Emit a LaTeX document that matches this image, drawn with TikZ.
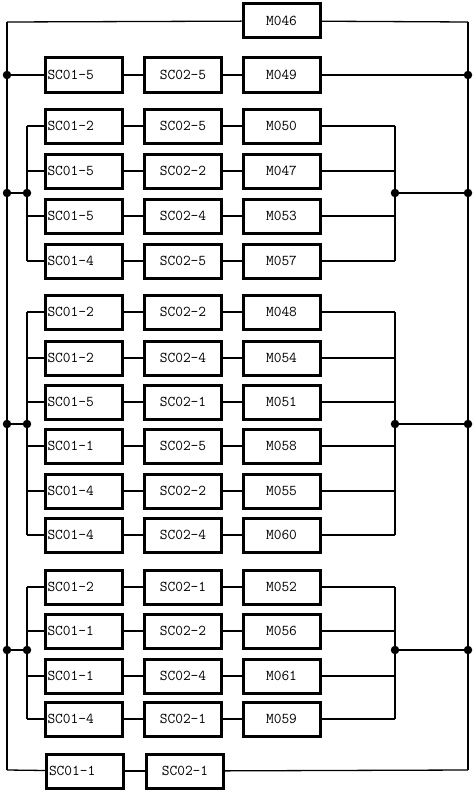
\documentclass[tikz,border=0pt]{standalone}
\begin{document}
\begin{tikzpicture}[x=1pt,y=-1pt,
  blk/.style={draw, line width=3pt, minimum width=77pt, minimum height=34pt, inner sep=0pt,
    font=\fontsize{15}{17}\selectfont\ttfamily},
  sca/.style={blk, text width=72pt, align=left},
  wire/.style={line width=1.3pt},
  jdot/.style={circle, fill, inner sep=0pt, minimum size=8.5pt}]
\useasboundingbox (0,0) rectangle (474,792);
% outer bus coordinates
\coordinate (Ltop) at (7,22);
\coordinate (Lbot) at (7,770);
\coordinate (Rtop) at (468,22);
\coordinate (Rbot) at (468,770);
% top single module
\node[blk] (m0) at (281.5,21) {M046};
% row 1
\node[sca] (a1) at (83.5,75) {SC01-5};
\node[blk] (b1) at (183,75) {SC02-5};
\node[blk] (m1) at (281.5,75) {M049};
% grouped rows
\foreach \y/\a/\b/\m [count=\i from 2] in {126/2/5/050,171/5/2/047,216/5/4/053,261/4/5/057,
  312/2/2/048,358/2/4/054,402/5/1/051,446/1/5/058,491/4/2/055,535/4/4/060,
  587/2/1/052,631/1/2/056,676/1/4/061,719/4/1/059}{
  \node[sca] (a\i) at (83.5,\y) {SC01-\a};
  \node[blk] (b\i) at (183,\y) {SC02-\b};
  \node[blk] (m\i) at (281.5,\y) {M\m};
  \coordinate (il\i) at (27,\y);
  \coordinate (ir\i) at (395,\y);
  \draw[wire] (il\i) -- (a\i);
  \draw[wire] (m\i) -- (ir\i);
}
\foreach \i in {1,...,15}{
  \draw[wire] (a\i) -- (b\i);
  \draw[wire] (b\i) -- (m\i);
}
% bottom row
\node[sca] (a16) at (85,771) {SC01-1};
\node[blk] (b16) at (185,771) {SC02-1};
% outer buses
\draw[wire] (Ltop) -- (Lbot);
\draw[wire] (Rtop) -- (Rbot);
\draw[wire] (Ltop) -- (m0);
\draw[wire] (m0) -- (Rtop);
\draw[wire] (Lbot) -- (a16);
\draw[wire] (a16) -- (b16);
\draw[wire] (b16) -- (Rbot);
% row 1 junctions
\node[jdot] (jl1) at (7,75) {};
\node[jdot] (jr1) at (468,75) {};
\draw[wire] (jl1) -- (a1);
\draw[wire] (m1) -- (jr1);
% inner buses
\draw[wire] (il2) -- (il5);
\draw[wire] (ir2) -- (ir5);
\draw[wire] (il6) -- (il11);
\draw[wire] (ir6) -- (ir11);
\draw[wire] (il12) -- (il15);
\draw[wire] (ir12) -- (ir15);
% group junctions
\foreach \y [count=\g] in {193,424,650}{
  \node[jdot] (ol\g) at (7,\y) {};
  \node[jdot] (gl\g) at (27,\y) {};
  \node[jdot] (gr\g) at (395,\y) {};
  \node[jdot] (or\g) at (468,\y) {};
  \draw[wire] (ol\g) -- (gl\g);
  \draw[wire] (gr\g) -- (or\g);
}
\end{tikzpicture}
\end{document}
